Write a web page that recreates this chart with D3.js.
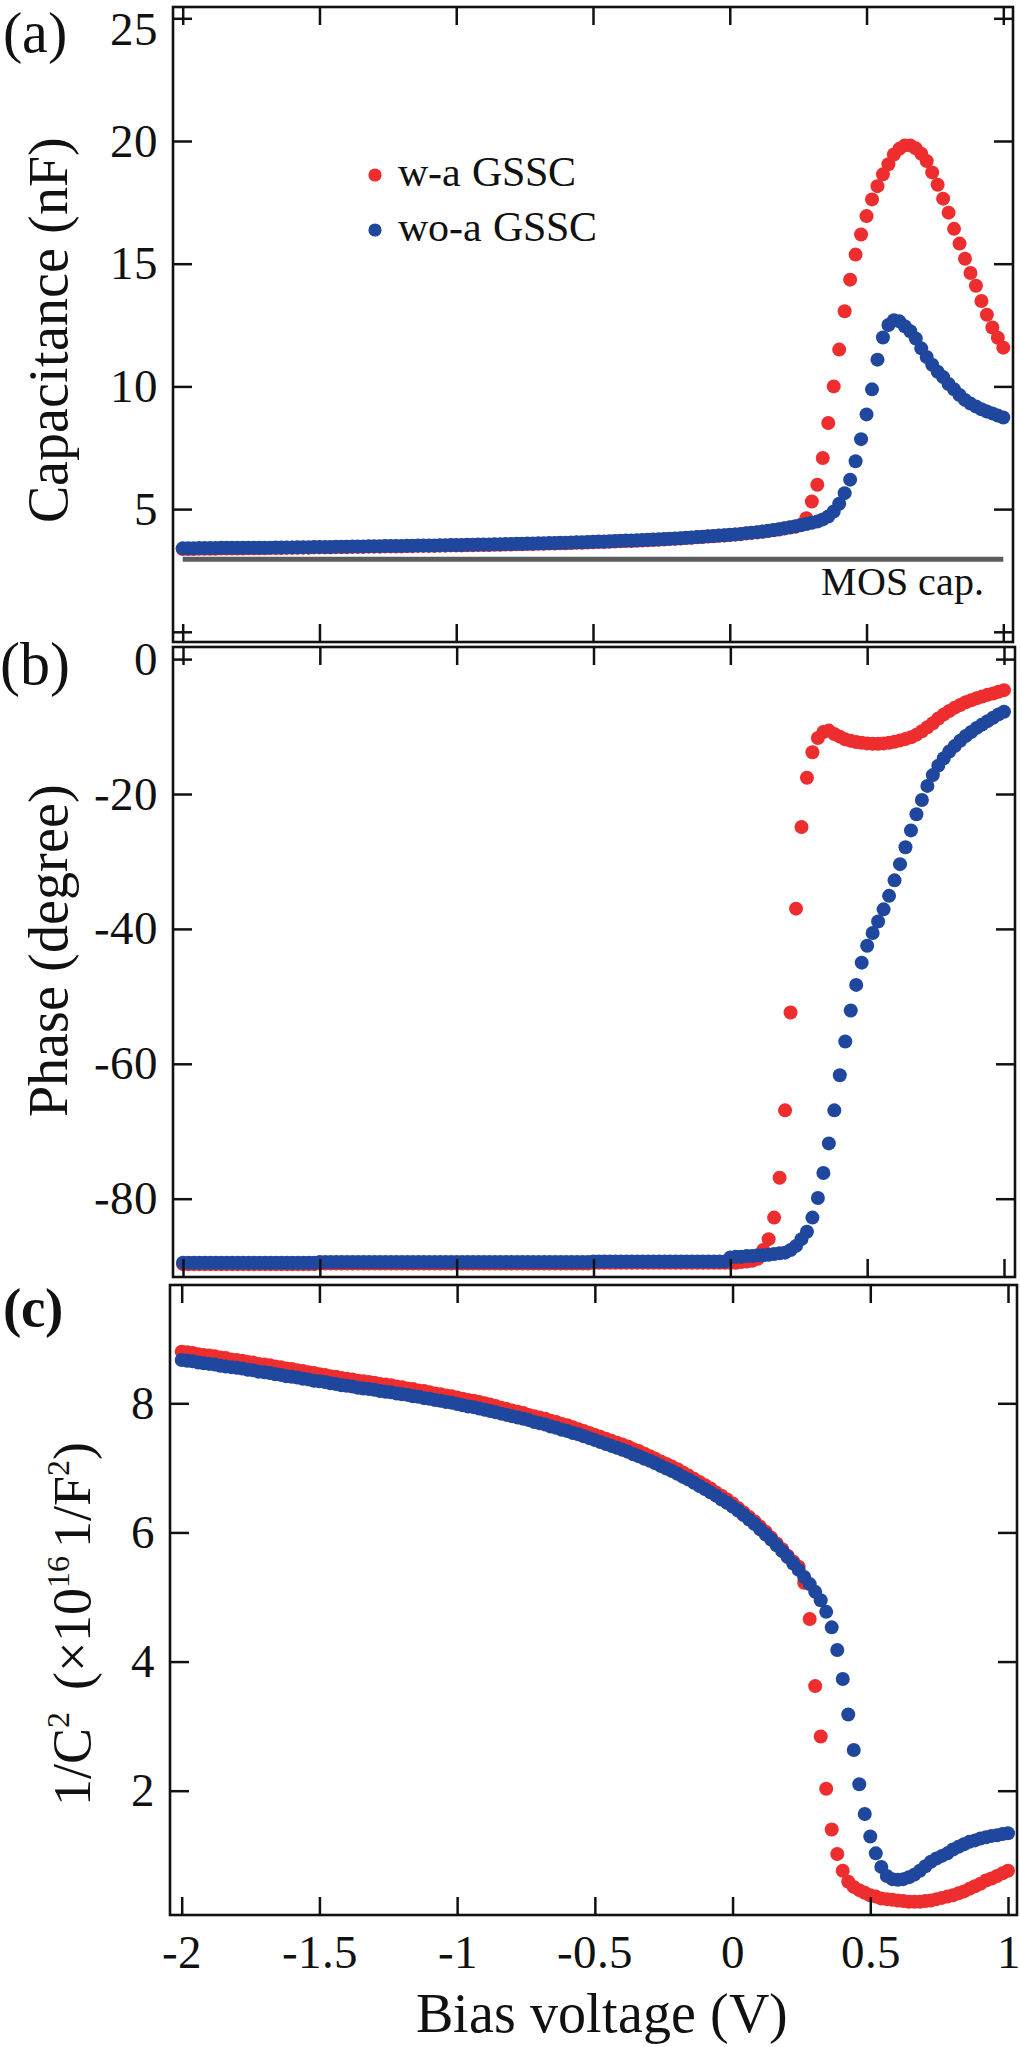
<!DOCTYPE html>
<html><head><meta charset="utf-8">
<script src="https://cdn.jsdelivr.net/npm/d3@7"></script>
<style>
@font-face { font-family: "FigSerif"; font-weight: 400;
  src: local("Liberation Serif"), local("LiberationSerif"), local("LiberationSerif-Regular"),
       local("Liberation Serif Regular"), local("Tinos"), local("Tinos-Regular"),
       local("Times New Roman"), local("TimesNewRomanPSMT"), local("DejaVu Serif"), local("DejaVuSerif"),
       local("Noto Serif"), local("NotoSerif-Regular"), local("FreeSerif"); }
@font-face { font-family: "FigSerif"; font-weight: 700;
  src: local("Liberation Serif Bold"), local("LiberationSerif-Bold"), local("Tinos Bold"), local("Tinos-Bold"),
       local("Times New Roman Bold"), local("TimesNewRomanPS-BoldMT"), local("DejaVu Serif Bold"), local("DejaVuSerif-Bold"),
       local("Noto Serif Bold"), local("NotoSerif-Bold"), local("FreeSerifBold"); }
html,body{margin:0;padding:0;background:#fff;}
svg, svg text{font-family:"FigSerif","Liberation Serif","Tinos","Times New Roman","Noto Serif","DejaVu Serif","FreeSerif",serif;}
</style></head><body>
<svg id="chart" width="1020" height="2047"></svg>
<script>
// Bias voltage sampling grid (-2 V to 1 V, 0.02 V step)
const voltage = d3.range(151).map(i => Math.round((-2 + 0.02 * i) * 100) / 100);

// (a) Capacitance (nF)
const capRed = [
3.37,3.37,3.37,3.38,3.38, 3.38,3.38,3.39,3.39,3.39, 3.39,3.39,3.40,3.40,3.40, 3.40,3.41,3.41,3.41,3.42,
3.42,3.42,3.43,3.43,3.44, 3.44,3.44,3.44,3.45,3.45, 3.45,3.46,3.46,3.46,3.47, 3.47,3.47,3.48,3.48,3.48,
3.48,3.49,3.49,3.50,3.50, 3.50,3.50,3.51,3.51,3.52, 3.52,3.52,3.53,3.53,3.54, 3.54,3.54,3.55,3.55,3.56,
3.56,3.57,3.57,3.58,3.58, 3.59,3.59,3.60,3.60,3.61, 3.61,3.62,3.63,3.63,3.64, 3.65,3.66,3.66,3.67,3.68,
3.69,3.70,3.70,3.71,3.72, 3.73,3.74,3.75,3.76,3.78, 3.79,3.80,3.82,3.83,3.85, 3.86,3.88,3.89,3.91,3.92,
3.94,3.96,3.98,4.01,4.03, 4.05,4.08,4.11,4.14,4.17, 4.21,4.25,4.28,4.36,4.63, 5.31,5.99,7.08,8.51,10.00,
11.50,13.06,14.35,15.37,16.19, 16.94,17.62,18.16,18.64,19.05, 19.45,19.68,19.82,19.82,19.70,
19.48,19.18,18.72,18.22,17.65, 17.08,16.42,15.82,15.20,14.62, 14.10,13.48,12.92,12.40,11.98, 11.58];
const capBlue = [
3.40,3.40,3.40,3.41,3.41, 3.41,3.41,3.42,3.42,3.42, 3.42,3.42,3.43,3.43,3.43, 3.43,3.43,3.44,3.44,3.44,
3.44,3.45,3.45,3.45,3.46, 3.46,3.46,3.46,3.47,3.47, 3.47,3.48,3.48,3.48,3.49, 3.49,3.49,3.50,3.50,3.50,
3.50,3.51,3.51,3.52,3.52, 3.52,3.52,3.53,3.53,3.54, 3.54,3.54,3.55,3.55,3.56, 3.56,3.56,3.57,3.57,3.58,
3.58,3.59,3.59,3.60,3.60, 3.61,3.61,3.62,3.62,3.63, 3.63,3.64,3.65,3.65,3.66, 3.67,3.68,3.68,3.69,3.70,
3.71,3.72,3.72,3.73,3.74, 3.75,3.76,3.77,3.78,3.79, 3.80,3.81,3.83,3.84,3.86, 3.87,3.89,3.90,3.92,3.93,
3.95,3.97,3.99,4.02,4.04, 4.06,4.09,4.12,4.15,4.18, 4.22,4.26,4.30,4.34,4.39, 4.44,4.49,4.58,4.70,4.90,
5.22,5.65,6.20,6.95,7.85, 8.86,9.88,11.09,11.99,12.50, 12.70,12.65,12.45,12.25,11.95,
11.55,11.20,10.88,10.60,10.38, 10.10,9.88,9.65,9.45,9.30, 9.18,9.07,8.98,8.90,8.81, 8.73];
const mosCap = 2.96;

// (b) Phase (degree)
const phaseRed = [
-89.7,-89.7,-89.7,-89.7,-89.7, -89.7,-89.7,-89.7,-89.7,-89.7, -89.7,-89.7,-89.7,-89.7,-89.7, -89.7,-89.7,-89.7,-89.7,-89.7,
-89.7,-89.7,-89.7,-89.7,-89.7, -89.6,-89.6,-89.6,-89.6,-89.6, -89.6,-89.6,-89.6,-89.6,-89.6, -89.6,-89.6,-89.6,-89.6,-89.6,
-89.6,-89.6,-89.6,-89.6,-89.6, -89.6,-89.6,-89.6,-89.6,-89.6, -89.6,-89.6,-89.6,-89.6,-89.6, -89.6,-89.6,-89.6,-89.6,-89.6,
-89.6,-89.6,-89.6,-89.6,-89.6, -89.6,-89.6,-89.6,-89.6,-89.6, -89.6,-89.6,-89.6,-89.6,-89.6, -89.5,-89.5,-89.5,-89.5,-89.5,
-89.5,-89.5,-89.5,-89.5,-89.5, -89.5,-89.5,-89.5,-89.5,-89.5, -89.5,-89.5,-89.5,-89.5,-89.5, -89.5,-89.5,-89.5,-89.5,-89.5,
-89.5,-89.5,-89.4,-89.3,-89.2, -88.9,-87.6,-86.0,-82.8,-76.9, -66.9,-52.4,-37.0,-24.9,-17.6, -13.8,-11.7,-10.8,-10.6,-11.1,
-11.5,-11.9,-12.1,-12.3,-12.4, -12.5,-12.55,-12.55,-12.5,-12.4, -12.25,-12.05,-11.85,-11.6,-11.2,
-10.7,-10.1,-9.5,-8.8,-8.2, -7.7,-7.2,-6.8,-6.4,-6.1, -5.8,-5.55,-5.3,-5.1,-4.85, -4.6];
const phaseBlue = [
-89.5,-89.5,-89.5,-89.5,-89.5, -89.5,-89.5,-89.5,-89.5,-89.5, -89.5,-89.5,-89.5,-89.5,-89.5, -89.5,-89.5,-89.5,-89.5,-89.5,
-89.5,-89.5,-89.5,-89.5,-89.5, -89.4,-89.4,-89.4,-89.4,-89.4, -89.4,-89.4,-89.4,-89.4,-89.4, -89.4,-89.4,-89.4,-89.4,-89.4,
-89.4,-89.4,-89.4,-89.4,-89.4, -89.4,-89.4,-89.4,-89.4,-89.4, -89.4,-89.4,-89.4,-89.4,-89.4, -89.4,-89.4,-89.4,-89.4,-89.4,
-89.4,-89.4,-89.4,-89.4,-89.4, -89.4,-89.4,-89.4,-89.4,-89.4, -89.4,-89.4,-89.4,-89.4,-89.4, -89.3,-89.3,-89.3,-89.3,-89.3,
-89.3,-89.3,-89.3,-89.3,-89.3, -89.3,-89.3,-89.3,-89.3,-89.3, -89.3,-89.3,-89.3,-89.3,-89.3, -89.3,-89.3,-89.3,-89.3,-89.3,
-88.7,-88.6,-88.6,-88.5,-88.5, -88.4,-88.4,-88.3,-88.2,-88.1, -88.0,-87.6,-87.0,-86.0,-84.9, -82.8,-79.9,-76.2,-71.8,-66.9,
-61.7,-56.7,-52.1,-48.3,-45.0, -42.5,-40.6,-38.9,-37.1,-35.1, -32.8,-30.4,-27.9,-25.4,-23.0,
-20.9,-18.8,-17.2,-15.8,-14.7, -13.7,-12.9,-12.1,-11.4,-10.8, -10.2,-9.7,-9.2,-8.7,-8.2, -7.8];

// (c) 1/C^2 (x10^16 1/F^2)
const invRed = [
8.80,8.79,8.78,8.76,8.75, 8.74,8.73,8.71,8.70,8.68, 8.67,8.66,8.64,8.63,8.61, 8.60,8.59,8.57,8.56,8.54,
8.53,8.51,8.50,8.48,8.47, 8.45,8.44,8.42,8.41,8.39, 8.38,8.37,8.35,8.34,8.33, 8.32,8.30,8.29,8.28,8.26,
8.25,8.23,8.22,8.20,8.19, 8.17,8.15,8.14,8.12,8.11, 8.09,8.07,8.05,8.04,8.02, 8.00,7.98,7.96,7.93,7.91,
7.89,7.87,7.85,7.82,7.80, 7.78,7.76,7.73,7.71,7.68, 7.66,7.63,7.60,7.57,7.54, 7.51,7.48,7.45,7.42,7.39,
7.36,7.33,7.29,7.26,7.22, 7.18,7.14,7.10,7.06,7.02, 6.98,6.93,6.88,6.83,6.78, 6.73,6.68,6.62,6.57,6.51,
6.45,6.38,6.31,6.24,6.17, 6.09,6.01,5.92,5.83,5.74, 5.64,5.55,5.47,5.22,4.66, 3.62,2.84,2.03,1.40,1.02,
0.76,0.59,0.51,0.46,0.42, 0.38,0.36,0.33,0.32,0.31, 0.30,0.29,0.28,0.28,0.28,
0.29,0.30,0.32,0.34,0.36, 0.38,0.41,0.44,0.48,0.52, 0.56,0.61,0.64,0.68,0.72, 0.76];
const invBlue = [
8.67,8.66,8.65,8.63,8.62, 8.61,8.60,8.58,8.57,8.56, 8.55,8.54,8.52,8.51,8.49, 8.48,8.47,8.45,8.44,8.42,
8.41,8.40,8.38,8.37,8.35, 8.34,8.33,8.31,8.30,8.28, 8.27,8.26,8.24,8.23,8.22, 8.21,8.19,8.18,8.17,8.15,
8.14,8.13,8.11,8.10,8.08, 8.07,8.05,8.04,8.02,8.01, 7.99,7.97,7.95,7.94,7.92, 7.90,7.88,7.86,7.84,7.82,
7.80,7.78,7.76,7.74,7.71, 7.69,7.67,7.64,7.62,7.59, 7.57,7.54,7.52,7.49,7.46, 7.43,7.40,7.37,7.34,7.31,
7.28,7.25,7.21,7.18,7.14, 7.11,7.07,7.03,6.99,6.95, 6.91,6.86,6.82,6.77,6.72, 6.67,6.62,6.57,6.51,6.46,
6.40,6.34,6.27,6.20,6.13, 6.05,5.97,5.89,5.80,5.71, 5.62,5.52,5.42,5.31,5.20, 5.08,4.95,4.77,4.53,4.18,
3.73,3.18,2.63,2.10,1.64, 1.29,1.03,0.82,0.68,0.63, 0.62,0.63,0.66,0.70,0.76,
0.83,0.90,0.95,0.99,1.03, 1.09,1.13,1.17,1.21,1.23, 1.26,1.28,1.30,1.31,1.33, 1.34];

const seriesNames = ["w-a GSSC", "wo-a GSSC"];
const seriesColors = ["#ed2d2e", "#1f479d"];

const xTicks = [-2, -1.5, -1, -0.5, 0, 0.5, 1];
const xTickLabels = ["-2", "-1.5", "-1", "-0.5", "0", "0.5", "1"];
const capTicks = [0, 5, 10, 15, 20, 25];
const capTickLabels = ["", "5", "10", "15", "20", "25"];
const phaseTicks = [0, -20, -40, -60, -80];
const phaseTickLabels = ["0", "-20", "-40", "-60", "-80"];
const invTicks = [2, 4, 6, 8];
const invTickLabels = ["2", "4", "6", "8"];

const FONT = "FigSerif, 'Liberation Serif', Tinos, 'Times New Roman', 'Noto Serif', 'DejaVu Serif', FreeSerif, serif";
const svg = d3.select("#chart").attr("font-family", FONT);

const panels = [
  {tag: "(a)", tagPos: [3, 52], tagSize: 58, tagWeight: "normal",
   frame: {l: 173, r: 1013, t: 7, b: 642}, xr: [182.7, 1003.3],
   ydom: [0, 25], yr: [631.8, 18.3], yTicks: capTicks, yLabels: capTickLabels,
   series: [capRed, capBlue], title: "Capacitance (nF)", titlePos: [67, 330], xLabels: false},
  {tag: "(b)", tagPos: [0, 684], tagSize: 60, tagWeight: "normal",
   frame: {l: 173, r: 1015, t: 647, b: 1277}, xr: [183, 1004],
   ydom: [0, -80], yr: [659.1, 1198.7], yTicks: phaseTicks, yLabels: phaseTickLabels,
   series: [phaseRed, phaseBlue], title: "Phase (degree)", titlePos: [67, 950], xLabels: false},
  {tag: "(c)", tagPos: [3, 1326], tagSize: 55, tagWeight: "bold",
   frame: {l: 170, r: 1017, t: 1285, b: 1915}, xr: [181.7, 1008],
   ydom: [2, 8], yr: [1790.7, 1403.3], yTicks: invTicks, yLabels: invTickLabels,
   series: [invRed, invBlue], title: null, titlePos: [90, 1624], xLabels: true}
];

function styleAxis(g) {
  g.attr("font-family", FONT).attr("font-size", 47).attr("color", "#111");
  g.select(".domain").remove();
  g.selectAll(".tick line").attr("stroke-width", 2.5);
}

panels.forEach((p, pi) => {
  const f = p.frame;
  const x = d3.scaleLinear().domain([-2, 1]).range(p.xr);
  const y = d3.scaleLinear().domain(p.ydom).range(p.yr);
  const g = svg.append("g");

  if (pi === 0) {
    g.append("line")
      .attr("x1", x(-2)).attr("x2", x(1))
      .attr("y1", y(mosCap)).attr("y2", y(mosCap))
      .attr("stroke", "#5c5c5c").attr("stroke-width", 5);
    g.append("text").attr("x", 984).attr("y", 595)
      .attr("text-anchor", "end").attr("font-size", 40).attr("fill", "#111")
      .attr("font-family", FONT)
      .text("MOS cap.");
  }

  p.series.forEach((vals, k) => {
    g.append("g").selectAll("circle").data(vals).join("circle")
      .attr("cx", (d, i) => x(voltage[i]))
      .attr("cy", d => y(d))
      .attr("r", 7)
      .attr("fill", seriesColors[k]);
  });

  g.append("g").attr("transform", `translate(0,${f.t})`)
    .call(d3.axisTop(x).tickValues(xTicks).tickSize(-18).tickFormat(""))
    .call(styleAxis);
  g.append("g").attr("transform", `translate(0,${f.b})`)
    .call(d3.axisBottom(x).tickValues(xTicks).tickSize(-18).tickPadding(20)
      .tickFormat((d, i) => p.xLabels ? xTickLabels[i] : ""))
    .call(styleAxis);
  const yl = g.append("g").attr("transform", `translate(${f.l},0)`)
    .call(d3.axisLeft(y).tickValues(p.yTicks).tickSize(-19).tickPadding(15)
      .tickFormat((d, i) => p.yLabels[i]))
    .call(styleAxis);
  if (pi === 0) yl.selectAll(".tick text").filter(d => d === 25).attr("dy", "0.55em");
  g.append("g").attr("transform", `translate(${f.r},0)`)
    .call(d3.axisRight(y).tickValues(p.yTicks).tickSize(-19).tickFormat(""))
    .call(styleAxis);

  g.append("rect").attr("x", f.l).attr("y", f.t)
    .attr("width", f.r - f.l).attr("height", f.b - f.t)
    .attr("fill", "none").attr("stroke", "#111").attr("stroke-width", 2.6);

  svg.append("text").attr("x", p.tagPos[0]).attr("y", p.tagPos[1])
    .attr("font-size", p.tagSize).attr("font-weight", p.tagWeight).attr("fill", "#111")
    .attr("font-family", FONT)
    .text(p.tag);

  if (p.title) {
    svg.append("text")
      .attr("transform", `translate(${p.titlePos[0]},${p.titlePos[1]}) rotate(-90)`)
      .attr("text-anchor", "middle").attr("font-size", 56).attr("fill", "#111")
      .attr("font-family", FONT)
      .text(p.title);
  }

  if (pi === 0) {
    const leg = g.append("g");
    const ly = [175, 230];
    seriesNames.forEach((name, k) => {
      leg.append("circle").attr("cx", 375).attr("cy", ly[k]).attr("r", 6.6).attr("fill", seriesColors[k]);
      leg.append("text").attr("x", 398).attr("y", ly[k] + 11)
        .attr("font-size", 42).attr("fill", "#111").attr("font-family", FONT).text(name);
    });
  }
});

// y title of panel (c) with superscripts
const t3 = svg.append("text")
  .attr("transform", "translate(90,1624) rotate(-90)")
  .attr("text-anchor", "middle").attr("font-size", 54).attr("fill", "#111")
  .attr("font-family", FONT);
t3.append("tspan").text("1/C");
t3.append("tspan").attr("font-size", 32).attr("dy", -21).text("2");
t3.append("tspan").attr("dy", 21).attr("dx", 22).text("(\u00d710");
t3.append("tspan").attr("font-size", 32).attr("dy", -21).text("16");
t3.append("tspan").attr("dy", 21).attr("dx", 8).text("1/F");
t3.append("tspan").attr("font-size", 32).attr("dy", -21).text("2");
t3.append("tspan").attr("dy", 21).text(")");

// x title
svg.append("text").attr("x", 602).attr("y", 2032)
  .attr("text-anchor", "middle").attr("font-size", 56).attr("fill", "#111")
  .attr("font-family", FONT)
  .text("Bias voltage (V)");
</script>
</body></html>
